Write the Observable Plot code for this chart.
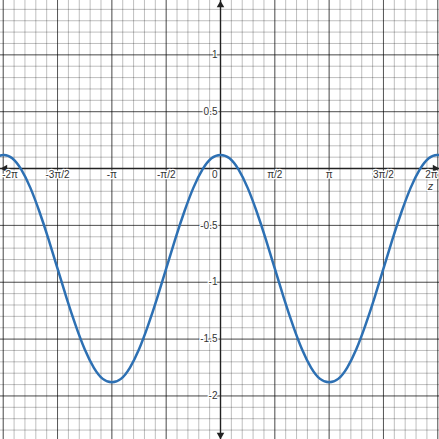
<!DOCTYPE html>
<html><head><meta charset="utf-8">
<script src="https://cdn.jsdelivr.net/npm/d3@7"></script>
<script src="https://cdn.jsdelivr.net/npm/@observablehq/plot@0.6"></script>
<style>html,body{margin:0;padding:0;background:#fff;overflow:hidden}</style>
</head><body><div id="chart"></div>
<script>
const PI = Math.PI;
// curve samples: x given in multiples of π/12, y
const curveSteps = [-25,-24,-23,-22,-21,-20,-19,-18,-17,-16,-15,-14,-13,-12,-11,-10,-9,-8,-7,-6,-5,-4,-3,-2,-1,0,1,2,3,4,5,6,7,8,9,10,11,12,13,14,15,16,17,18,19,20,21,22,23,24,25];
const curveY = [0.09,0.12,0.09,-0.01,-0.17,-0.38,-0.62,-0.88,-1.14,-1.38,-1.59,-1.75,-1.85,-1.88,-1.85,-1.75,-1.59,-1.38,-1.14,-0.88,-0.62,-0.38,-0.17,-0.01,0.09,0.12,0.09,-0.01,-0.17,-0.38,-0.62,-0.88,-1.14,-1.38,-1.59,-1.75,-1.85,-1.88,-1.85,-1.75,-1.59,-1.38,-1.14,-0.88,-0.62,-0.38,-0.17,-0.01,0.09,0.12,0.09];
// x tick positions in multiples of π/2
const xTickSteps = [-4,-3,-2,-1,0,1,2,3,4];
const xTickLabels = ["-2π","-3π/2","-π","-π/2","0","π/2","π","3π/2","2π"];
const yTickValues = [1,0.5,-0.5,-1,-1.5,-2];
const yTickLabels = ["1","0.5","-0.5","-1","-1.5","-2"];
const xAxisName = "z";

const xDomain = [-6.362, 6.333];
const yDomain = [-2.383, 1.478];

const curve = curveSteps.map((k,i) => ({x: k*PI/12, y: curveY[i]}));
const xTicks = xTickSteps.map((k,i) => ({x: k*PI/2, label: xTickLabels[i], i}));
const yTicks = yTickValues.map((v,i) => ({y: v, label: yTickLabels[i]}));

const minorX = d3.range(-21, 22).map(k => k*PI/10);
const majorX = xTickSteps.filter(k => k !== 0).map(k => k*PI/2);
const minorY = d3.range(-24, 15).map(k => k/10);
const majorY = yTickValues;

const textStyle = {fill:"#333", fontSize:10, stroke:"white", strokeWidth:2.5};

const chart = Plot.plot({
  width: 439, height: 439, margin: 0,
  x: {domain: xDomain, axis: null},
  y: {domain: yDomain, axis: null},
  style: {background:"white", fontFamily:"'Liberation Sans', Arial, sans-serif"},
  marks: [
    Plot.ruleX(minorX, {stroke:"#000", strokeOpacity:0.25, strokeWidth:1}),
    Plot.ruleY(minorY, {stroke:"#000", strokeOpacity:0.25, strokeWidth:1}),
    Plot.ruleX(majorX, {stroke:"#000", strokeOpacity:0.55, strokeWidth:1}),
    Plot.ruleY(majorY, {stroke:"#000", strokeOpacity:0.55, strokeWidth:1}),
    Plot.ruleX([0], {stroke:"#222", strokeWidth:1.4}),
    Plot.ruleY([0], {stroke:"#222", strokeWidth:1.4}),
    Plot.dot([{x:0, y:yDomain[1]}], {x:"x", y:"y", symbol:"triangle", r:2.8, fill:"#222", dy:4.5}),
    Plot.dot([{x:0, y:yDomain[0]}], {x:"x", y:"y", symbol:"triangle", r:2.8, fill:"#222", dy:-4.5, rotate:180}),
    Plot.dot([{x:xDomain[0], y:0}], {x:"x", y:"y", symbol:"triangle", r:2.8, fill:"#222", dx:4.5, rotate:-90}),
    Plot.dot([{x:xDomain[1], y:0}], {x:"x", y:"y", symbol:"triangle", r:2.8, fill:"#222", dx:-4.5, rotate:90}),
    Plot.text(xTicks.filter(d => d.i > 0 && d.i < xTicks.length-1 && d.x !== 0), {x:"x", y:0, text:"label", dy:6.5, textAnchor:"middle", ...textStyle}),
    Plot.text(xTicks.filter(d => d.i === 0), {x:"x", y:0, text:"label", dy:6.5, textAnchor:"start", dx:-1, ...textStyle}),
    Plot.text(xTicks.filter(d => d.i === xTicks.length-1), {x:"x", y:0, text:"label", dy:6.5, textAnchor:"end", dx:0, ...textStyle}),
    Plot.text(xTicks.filter(d => d.x === 0), {x:"x", y:0, text:"label", dy:6, dx:-3, textAnchor:"end", ...textStyle}),
    Plot.text(yTicks, {x:0, y:"y", text:"label", dx:-3, textAnchor:"end", ...textStyle}),
    Plot.text([xAxisName], {x:xDomain[1], y:0, text:d=>d, dx:-9, dy:17.5, textAnchor:"middle", fontStyle:"italic", ...textStyle, fontSize:11}),
    Plot.line(curve, {x:"x", y:"y", curve:"natural", stroke:"#2d70b3", strokeWidth:2.5, clip:"frame"})
  ]
});
document.getElementById("chart").appendChild(chart);
</script>
</body></html>
